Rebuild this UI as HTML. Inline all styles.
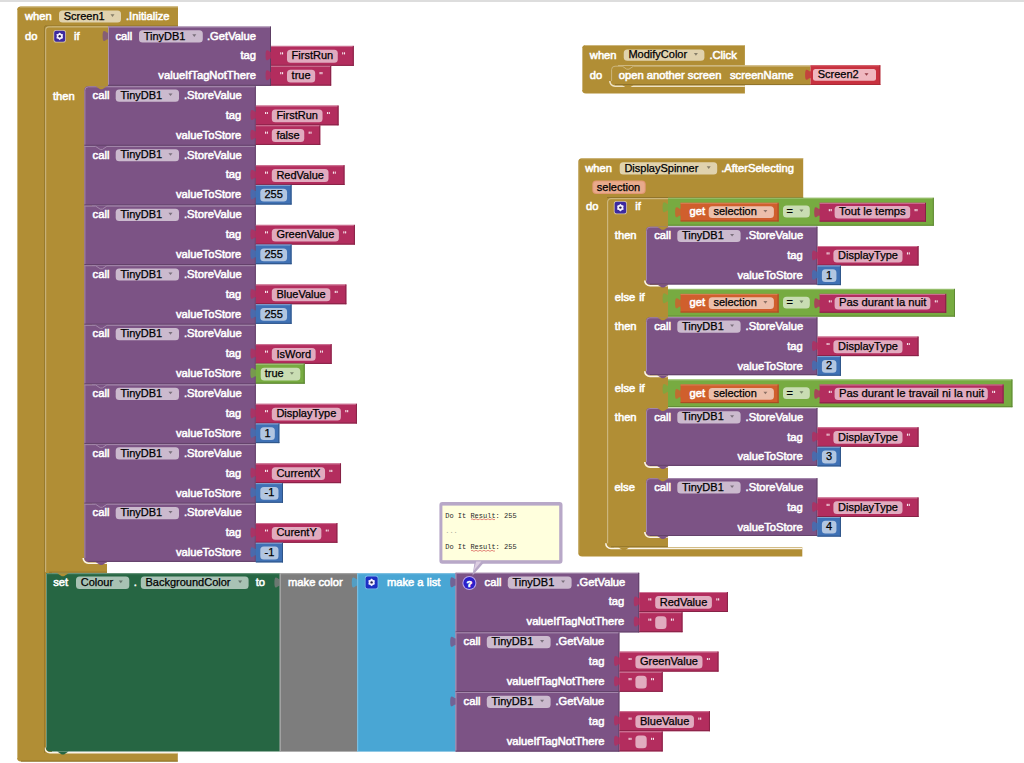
<!DOCTYPE html>
<html><head><meta charset="utf-8"><style>
html,body{margin:0;padding:0;background:#fff;width:1024px;height:763px;overflow:hidden}
svg{display:block}
text{font-family:"Liberation Sans", sans-serif}
text.mono{font-family:"Liberation Mono", monospace}
text.w{stroke:#fff;stroke-width:0.55px}
text.b{stroke:#000;stroke-width:0.25px}
</style></head><body>
<svg width="1024" height="763" viewBox="0 0 1024 763">
<rect x="0" y="0" width="1024" height="763" fill="#ffffff"/>
<rect x="0" y="0" width="1024" height="2" fill="#dddddd"/>
<path d="M17,10.5 a4,4 0 0 1 4,-4 H178 V26.3 H52 V752.8 H177.8 V761.6 H21 a4,4 0 0 1 -4,-4 Z" fill="#b18e35"/>
<line x1="20" y1="7" x2="178" y2="7" stroke="#ccb67c" stroke-width="1"/>
<line x1="17.5" y1="10" x2="17.5" y2="758" stroke="#ccb67c" stroke-width="1"/>
<line x1="45" y1="26" x2="178" y2="26" stroke="#8e722a" stroke-width="1"/>
<line x1="21" y1="761.1" x2="177.8" y2="761.1" stroke="#8e722a" stroke-width="1"/>
<text x="25" y="20" fill="#fff" font-size="11.2" class="w">when</text>
<rect x="59" y="10.4" width="62" height="12" fill="#e0d2ae" rx="3.5"/>
<text x="63.7" y="19.5" fill="#000" font-size="11" class="b">Screen1</text>
<path d="M110.5,14.3 h4 l-2,2.6 z" fill="#867e69"/>
<text x="126" y="20" fill="#fff" font-size="11.2" class="w">.Initialize</text>
<text x="25" y="40" fill="#fff" font-size="11.2" class="w">do</text>
<path d="M45,30.3 a4,4 0 0 1 4,-4 H108 V92 H92 V562 H107 V572.7 H49 a4,4 0 0 1 -4,-4 Z" fill="#b18e35"/>
<path d="M45.6,572 V30.3 a3.4,3.4 0 0 1 3.4,-3.4 H108" fill="none" stroke="#ccb67c" stroke-width="1.2"/>
<line x1="49" y1="572.2" x2="107" y2="572.2" stroke="#8e722a" stroke-width="1"/>
<rect x="53.4" y="30" width="12.6" height="12.6" fill="#ebe1d7" rx="2.8" fill-opacity="0.7"/>
<rect x="54.2" y="30.8" width="11" height="11" fill="#3c2aa0" rx="2"/>
<polygon points="59.7,32.4 61.05,33.96 63.08,34.35 62.4,36.3 63.08,38.25 61.05,38.64 59.7,40.2 58.35,38.64 56.32,38.25 57,36.3 56.32,34.35 58.35,33.96" fill="#f4f0ff"/>
<circle cx="59.7" cy="36.3" r="2.8" fill="#f4f0ff"/>
<circle cx="59.7" cy="36.3" r="1.2" fill="#2a2050"/>
<text x="74" y="40" fill="#fff" font-size="11.2" class="w">if</text>
<text x="53" y="99.5" fill="#fff" font-size="11.2" class="w">then</text>
<path d="M108.6,41.6 c0,-7.5 -6,6 -6,-5.625 s6,1.875 6,-5.625 z" fill="#7c5385" fill-opacity="0.8"/>
<rect x="108" y="26.6" width="163" height="59.2" fill="#7c5385"/>
<line x1="108" y1="27.1" x2="271" y2="27.1" stroke="#aa8fb0" stroke-width="1"/>
<line x1="108.5" y1="26.6" x2="108.5" y2="85.8" stroke="#aa8fb0" stroke-width="1"/>
<line x1="108" y1="85.3" x2="271" y2="85.3" stroke="#5d3e64" stroke-width="1"/>
<line x1="270.5" y1="26.6" x2="270.5" y2="85.8" stroke="#5d3e64" stroke-width="1"/>
<text x="115.5" y="39.6" fill="#fff" font-size="11.2" class="w">call</text>
<rect x="139" y="30.3" width="63.8" height="12.2" fill="#cbbace" rx="3.5"/>
<text x="143.7" y="39.5" fill="#000" font-size="11" class="b">TinyDB1</text>
<path d="M192.3,34.3 h4 l-2,2.6 z" fill="#7a707c"/>
<text x="207" y="39.6" fill="#fff" font-size="11.2" class="w">.GetValue</text>
<text x="256" y="59.2" fill="#fff" font-size="11.2" text-anchor="end" class="w">tag</text>
<text x="256" y="79.1" fill="#fff" font-size="11.2" text-anchor="end" class="w">valueIfTagNotThere</text>
<path d="M271.6,60.9 c0,-7.5 -6,6 -6,-5.625 s6,1.875 6,-5.625 z" fill="#b32d5e" fill-opacity="0.8"/>
<rect x="271" y="45.9" width="82.76" height="19.9" fill="#b32d5e"/>
<line x1="271" y1="46.4" x2="353.76" y2="46.4" stroke="#ce7696" stroke-width="1"/>
<line x1="271" y1="65.3" x2="353.76" y2="65.3" stroke="#862246" stroke-width="1"/>
<line x1="353.26" y1="45.9" x2="353.26" y2="65.8" stroke="#862246" stroke-width="1"/>
<rect x="287" y="49.85" width="50.76" height="12.8" fill="#e1abbf" rx="3.5"/>
<text x="291.6" y="59.35" fill="#000" font-size="11" class="b">FirstRun</text>
<rect x="280.2" y="52.2" width="1.1" height="2.2" fill="#ffffff" rx="0.3" fill-opacity="0.9"/>
<rect x="282" y="52.2" width="1.1" height="2.2" fill="#ffffff" rx="0.3" fill-opacity="0.9"/>
<rect x="342.16" y="52.2" width="1.1" height="2.2" fill="#ffffff" rx="0.3" fill-opacity="0.9"/>
<rect x="343.96" y="52.2" width="1.1" height="2.2" fill="#ffffff" rx="0.3" fill-opacity="0.9"/>
<path d="M271.6,80.8 c0,-7.5 -6,6 -6,-5.625 s6,1.875 6,-5.625 z" fill="#b32d5e" fill-opacity="0.8"/>
<rect x="271" y="65.8" width="60.17" height="19.8" fill="#b32d5e"/>
<line x1="271" y1="66.3" x2="331.17" y2="66.3" stroke="#ce7696" stroke-width="1"/>
<line x1="271" y1="85.1" x2="331.17" y2="85.1" stroke="#862246" stroke-width="1"/>
<line x1="330.67" y1="65.8" x2="330.67" y2="85.6" stroke="#862246" stroke-width="1"/>
<rect x="287" y="69.7" width="28.17" height="12.8" fill="#e1abbf" rx="3.5"/>
<text x="291.6" y="79.2" fill="#000" font-size="11" class="b">true</text>
<rect x="280.2" y="72.1" width="1.1" height="2.2" fill="#ffffff" rx="0.3" fill-opacity="0.9"/>
<rect x="282" y="72.1" width="1.1" height="2.2" fill="#ffffff" rx="0.3" fill-opacity="0.9"/>
<rect x="319.57" y="72.1" width="1.1" height="2.2" fill="#ffffff" rx="0.3" fill-opacity="0.9"/>
<rect x="321.37" y="72.1" width="1.1" height="2.2" fill="#ffffff" rx="0.3" fill-opacity="0.9"/>
<path d="M84.4,90.3 a4,4 0 0 1 4,-4 H255.8 V145.94 H84.4 Z" fill="#7c5385"/>
<line x1="84.9" y1="90.3" x2="84.9" y2="145.94" stroke="#a387aa" stroke-width="1"/>
<path d="M84.9,90.3 a3.5,3.5 0 0 1 3.5,-3.5 H255.8" fill="none" stroke="#a387aa" stroke-width="1"/>
<path d="M95.65,86.3 l4.5,3 h2.25 l4.5,-3 z" fill="#b18e35"/>
<line x1="255.3" y1="86.3" x2="255.3" y2="145.94" stroke="#63426a" stroke-width="1"/>
<text x="92.6" y="98.9" fill="#fff" font-size="11.2" class="w">call</text>
<rect x="115.7" y="89.5" width="63.3" height="12.2" fill="#cbbace" rx="3.5"/>
<text x="120.4" y="98.7" fill="#000" font-size="11" class="b">TinyDB1</text>
<path d="M168.5,93.5 h4 l-2,2.6 z" fill="#7a707c"/>
<text x="184" y="98.9" fill="#fff" font-size="11.2" class="w">.StoreValue</text>
<text x="241.2" y="118.8" fill="#fff" font-size="11.2" text-anchor="end" class="w">tag</text>
<text x="241.2" y="138.7" fill="#fff" font-size="11.2" text-anchor="end" class="w">valueToStore</text>
<path d="M256.4,120.6 c0,-7.5 -6,6 -6,-5.625 s6,1.875 6,-5.625 z" fill="#b32d5e" fill-opacity="0.8"/>
<rect x="255.8" y="105.6" width="82.76" height="19.7" fill="#b32d5e"/>
<line x1="255.8" y1="106.1" x2="338.56" y2="106.1" stroke="#ce7696" stroke-width="1"/>
<line x1="255.8" y1="124.8" x2="338.56" y2="124.8" stroke="#862246" stroke-width="1"/>
<line x1="338.06" y1="105.6" x2="338.06" y2="125.3" stroke="#862246" stroke-width="1"/>
<rect x="271.8" y="109.45" width="50.76" height="12.8" fill="#e1abbf" rx="3.5"/>
<text x="276.4" y="118.95" fill="#000" font-size="11" class="b">FirstRun</text>
<rect x="265" y="111.9" width="1.1" height="2.2" fill="#ffffff" rx="0.3" fill-opacity="0.9"/>
<rect x="266.8" y="111.9" width="1.1" height="2.2" fill="#ffffff" rx="0.3" fill-opacity="0.9"/>
<rect x="326.96" y="111.9" width="1.1" height="2.2" fill="#ffffff" rx="0.3" fill-opacity="0.9"/>
<rect x="328.76" y="111.9" width="1.1" height="2.2" fill="#ffffff" rx="0.3" fill-opacity="0.9"/>
<path d="M256.4,140.3 c0,-7.5 -6,6 -6,-5.625 s6,1.875 6,-5.625 z" fill="#b32d5e" fill-opacity="0.8"/>
<rect x="255.8" y="125.3" width="64.45" height="19.6" fill="#b32d5e"/>
<line x1="255.8" y1="125.8" x2="320.25" y2="125.8" stroke="#ce7696" stroke-width="1"/>
<line x1="255.8" y1="144.4" x2="320.25" y2="144.4" stroke="#862246" stroke-width="1"/>
<line x1="319.75" y1="125.3" x2="319.75" y2="144.9" stroke="#862246" stroke-width="1"/>
<rect x="271.8" y="129.1" width="32.45" height="12.8" fill="#e1abbf" rx="3.5"/>
<text x="276.4" y="138.6" fill="#000" font-size="11" class="b">false</text>
<rect x="265" y="131.6" width="1.1" height="2.2" fill="#ffffff" rx="0.3" fill-opacity="0.9"/>
<rect x="266.8" y="131.6" width="1.1" height="2.2" fill="#ffffff" rx="0.3" fill-opacity="0.9"/>
<rect x="308.65" y="131.6" width="1.1" height="2.2" fill="#ffffff" rx="0.3" fill-opacity="0.9"/>
<rect x="310.45" y="131.6" width="1.1" height="2.2" fill="#ffffff" rx="0.3" fill-opacity="0.9"/>
<path d="M84.4,145.94 H255.8 V205.58 H84.4 Z" fill="#7c5385"/>
<line x1="84.9" y1="145.94" x2="84.9" y2="205.58" stroke="#a387aa" stroke-width="1"/>
<line x1="84.4" y1="145.24" x2="255.8" y2="145.24" stroke="#63426a" stroke-width="1"/>
<path d="M84.4,146.44 H95.65 l4.5,3 h2.25 l4.5,-3 H255.8" fill="none" stroke="#a387aa" stroke-width="1"/>
<line x1="255.3" y1="145.94" x2="255.3" y2="205.58" stroke="#63426a" stroke-width="1"/>
<text x="92.6" y="158.54" fill="#fff" font-size="11.2" class="w">call</text>
<rect x="115.7" y="149.14" width="63.3" height="12.2" fill="#cbbace" rx="3.5"/>
<text x="120.4" y="158.34" fill="#000" font-size="11" class="b">TinyDB1</text>
<path d="M168.5,153.14 h4 l-2,2.6 z" fill="#7a707c"/>
<text x="184" y="158.54" fill="#fff" font-size="11.2" class="w">.StoreValue</text>
<text x="241.2" y="178.44" fill="#fff" font-size="11.2" text-anchor="end" class="w">tag</text>
<text x="241.2" y="198.34" fill="#fff" font-size="11.2" text-anchor="end" class="w">valueToStore</text>
<path d="M256.4,180.24 c0,-7.5 -6,6 -6,-5.625 s6,1.875 6,-5.625 z" fill="#b32d5e" fill-opacity="0.8"/>
<rect x="255.8" y="165.24" width="88.7" height="19.7" fill="#b32d5e"/>
<line x1="255.8" y1="165.74" x2="344.5" y2="165.74" stroke="#ce7696" stroke-width="1"/>
<line x1="255.8" y1="184.44" x2="344.5" y2="184.44" stroke="#862246" stroke-width="1"/>
<line x1="344" y1="165.24" x2="344" y2="184.94" stroke="#862246" stroke-width="1"/>
<rect x="271.8" y="169.09" width="56.7" height="12.8" fill="#e1abbf" rx="3.5"/>
<text x="276.4" y="178.59" fill="#000" font-size="11" class="b">RedValue</text>
<rect x="265" y="171.54" width="1.1" height="2.2" fill="#ffffff" rx="0.3" fill-opacity="0.9"/>
<rect x="266.8" y="171.54" width="1.1" height="2.2" fill="#ffffff" rx="0.3" fill-opacity="0.9"/>
<rect x="332.9" y="171.54" width="1.1" height="2.2" fill="#ffffff" rx="0.3" fill-opacity="0.9"/>
<rect x="334.7" y="171.54" width="1.1" height="2.2" fill="#ffffff" rx="0.3" fill-opacity="0.9"/>
<path d="M256.4,199.94 c0,-7.5 -6,6 -6,-5.625 s6,1.875 6,-5.625 z" fill="#3f71b5" fill-opacity="0.8"/>
<rect x="255.8" y="184.94" width="35.76" height="19.6" fill="#3f71b5"/>
<line x1="255.8" y1="185.44" x2="291.56" y2="185.44" stroke="#82a3cf" stroke-width="1"/>
<line x1="255.8" y1="204.04" x2="291.56" y2="204.04" stroke="#2f5588" stroke-width="1"/>
<line x1="291.06" y1="184.94" x2="291.06" y2="204.54" stroke="#2f5588" stroke-width="1"/>
<rect x="260.3" y="188.74" width="26.76" height="12.8" fill="#b2c6e1" rx="3.5"/>
<text x="264.5" y="198.24" fill="#000" font-size="11" class="b">255</text>
<path d="M84.4,205.58 H255.8 V265.22 H84.4 Z" fill="#7c5385"/>
<line x1="84.9" y1="205.58" x2="84.9" y2="265.22" stroke="#a387aa" stroke-width="1"/>
<line x1="84.4" y1="204.88" x2="255.8" y2="204.88" stroke="#63426a" stroke-width="1"/>
<path d="M84.4,206.08 H95.65 l4.5,3 h2.25 l4.5,-3 H255.8" fill="none" stroke="#a387aa" stroke-width="1"/>
<line x1="255.3" y1="205.58" x2="255.3" y2="265.22" stroke="#63426a" stroke-width="1"/>
<text x="92.6" y="218.18" fill="#fff" font-size="11.2" class="w">call</text>
<rect x="115.7" y="208.78" width="63.3" height="12.2" fill="#cbbace" rx="3.5"/>
<text x="120.4" y="217.98" fill="#000" font-size="11" class="b">TinyDB1</text>
<path d="M168.5,212.78 h4 l-2,2.6 z" fill="#7a707c"/>
<text x="184" y="218.18" fill="#fff" font-size="11.2" class="w">.StoreValue</text>
<text x="241.2" y="238.08" fill="#fff" font-size="11.2" text-anchor="end" class="w">tag</text>
<text x="241.2" y="257.98" fill="#fff" font-size="11.2" text-anchor="end" class="w">valueToStore</text>
<path d="M256.4,239.88 c0,-7.5 -6,6 -6,-5.625 s6,1.875 6,-5.625 z" fill="#b32d5e" fill-opacity="0.8"/>
<rect x="255.8" y="224.88" width="99.09" height="19.7" fill="#b32d5e"/>
<line x1="255.8" y1="225.38" x2="354.89" y2="225.38" stroke="#ce7696" stroke-width="1"/>
<line x1="255.8" y1="244.08" x2="354.89" y2="244.08" stroke="#862246" stroke-width="1"/>
<line x1="354.39" y1="224.88" x2="354.39" y2="244.58" stroke="#862246" stroke-width="1"/>
<rect x="271.8" y="228.73" width="67.09" height="12.8" fill="#e1abbf" rx="3.5"/>
<text x="276.4" y="238.23" fill="#000" font-size="11" class="b">GreenValue</text>
<rect x="265" y="231.18" width="1.1" height="2.2" fill="#ffffff" rx="0.3" fill-opacity="0.9"/>
<rect x="266.8" y="231.18" width="1.1" height="2.2" fill="#ffffff" rx="0.3" fill-opacity="0.9"/>
<rect x="343.29" y="231.18" width="1.1" height="2.2" fill="#ffffff" rx="0.3" fill-opacity="0.9"/>
<rect x="345.09" y="231.18" width="1.1" height="2.2" fill="#ffffff" rx="0.3" fill-opacity="0.9"/>
<path d="M256.4,259.58 c0,-7.5 -6,6 -6,-5.625 s6,1.875 6,-5.625 z" fill="#3f71b5" fill-opacity="0.8"/>
<rect x="255.8" y="244.58" width="35.76" height="19.6" fill="#3f71b5"/>
<line x1="255.8" y1="245.08" x2="291.56" y2="245.08" stroke="#82a3cf" stroke-width="1"/>
<line x1="255.8" y1="263.68" x2="291.56" y2="263.68" stroke="#2f5588" stroke-width="1"/>
<line x1="291.06" y1="244.58" x2="291.06" y2="264.18" stroke="#2f5588" stroke-width="1"/>
<rect x="260.3" y="248.38" width="26.76" height="12.8" fill="#b2c6e1" rx="3.5"/>
<text x="264.5" y="257.88" fill="#000" font-size="11" class="b">255</text>
<path d="M84.4,265.22 H255.8 V324.86 H84.4 Z" fill="#7c5385"/>
<line x1="84.9" y1="265.22" x2="84.9" y2="324.86" stroke="#a387aa" stroke-width="1"/>
<line x1="84.4" y1="264.52" x2="255.8" y2="264.52" stroke="#63426a" stroke-width="1"/>
<path d="M84.4,265.72 H95.65 l4.5,3 h2.25 l4.5,-3 H255.8" fill="none" stroke="#a387aa" stroke-width="1"/>
<line x1="255.3" y1="265.22" x2="255.3" y2="324.86" stroke="#63426a" stroke-width="1"/>
<text x="92.6" y="277.82" fill="#fff" font-size="11.2" class="w">call</text>
<rect x="115.7" y="268.42" width="63.3" height="12.2" fill="#cbbace" rx="3.5"/>
<text x="120.4" y="277.62" fill="#000" font-size="11" class="b">TinyDB1</text>
<path d="M168.5,272.42 h4 l-2,2.6 z" fill="#7a707c"/>
<text x="184" y="277.82" fill="#fff" font-size="11.2" class="w">.StoreValue</text>
<text x="241.2" y="297.72" fill="#fff" font-size="11.2" text-anchor="end" class="w">tag</text>
<text x="241.2" y="317.62" fill="#fff" font-size="11.2" text-anchor="end" class="w">valueToStore</text>
<path d="M256.4,299.52 c0,-7.5 -6,6 -6,-5.625 s6,1.875 6,-5.625 z" fill="#b32d5e" fill-opacity="0.8"/>
<rect x="255.8" y="284.52" width="90.54" height="19.7" fill="#b32d5e"/>
<line x1="255.8" y1="285.02" x2="346.34" y2="285.02" stroke="#ce7696" stroke-width="1"/>
<line x1="255.8" y1="303.72" x2="346.34" y2="303.72" stroke="#862246" stroke-width="1"/>
<line x1="345.84" y1="284.52" x2="345.84" y2="304.22" stroke="#862246" stroke-width="1"/>
<rect x="271.8" y="288.37" width="58.54" height="12.8" fill="#e1abbf" rx="3.5"/>
<text x="276.4" y="297.87" fill="#000" font-size="11" class="b">BlueValue</text>
<rect x="265" y="290.82" width="1.1" height="2.2" fill="#ffffff" rx="0.3" fill-opacity="0.9"/>
<rect x="266.8" y="290.82" width="1.1" height="2.2" fill="#ffffff" rx="0.3" fill-opacity="0.9"/>
<rect x="334.74" y="290.82" width="1.1" height="2.2" fill="#ffffff" rx="0.3" fill-opacity="0.9"/>
<rect x="336.54" y="290.82" width="1.1" height="2.2" fill="#ffffff" rx="0.3" fill-opacity="0.9"/>
<path d="M256.4,319.22 c0,-7.5 -6,6 -6,-5.625 s6,1.875 6,-5.625 z" fill="#3f71b5" fill-opacity="0.8"/>
<rect x="255.8" y="304.22" width="35.76" height="19.6" fill="#3f71b5"/>
<line x1="255.8" y1="304.72" x2="291.56" y2="304.72" stroke="#82a3cf" stroke-width="1"/>
<line x1="255.8" y1="323.32" x2="291.56" y2="323.32" stroke="#2f5588" stroke-width="1"/>
<line x1="291.06" y1="304.22" x2="291.06" y2="323.82" stroke="#2f5588" stroke-width="1"/>
<rect x="260.3" y="308.02" width="26.76" height="12.8" fill="#b2c6e1" rx="3.5"/>
<text x="264.5" y="317.52" fill="#000" font-size="11" class="b">255</text>
<path d="M84.4,324.86 H255.8 V384.5 H84.4 Z" fill="#7c5385"/>
<line x1="84.9" y1="324.86" x2="84.9" y2="384.5" stroke="#a387aa" stroke-width="1"/>
<line x1="84.4" y1="324.16" x2="255.8" y2="324.16" stroke="#63426a" stroke-width="1"/>
<path d="M84.4,325.36 H95.65 l4.5,3 h2.25 l4.5,-3 H255.8" fill="none" stroke="#a387aa" stroke-width="1"/>
<line x1="255.3" y1="324.86" x2="255.3" y2="384.5" stroke="#63426a" stroke-width="1"/>
<text x="92.6" y="337.46" fill="#fff" font-size="11.2" class="w">call</text>
<rect x="115.7" y="328.06" width="63.3" height="12.2" fill="#cbbace" rx="3.5"/>
<text x="120.4" y="337.26" fill="#000" font-size="11" class="b">TinyDB1</text>
<path d="M168.5,332.06 h4 l-2,2.6 z" fill="#7a707c"/>
<text x="184" y="337.46" fill="#fff" font-size="11.2" class="w">.StoreValue</text>
<text x="241.2" y="357.36" fill="#fff" font-size="11.2" text-anchor="end" class="w">tag</text>
<text x="241.2" y="377.26" fill="#fff" font-size="11.2" text-anchor="end" class="w">valueToStore</text>
<path d="M256.4,359.16 c0,-7.5 -6,6 -6,-5.625 s6,1.875 6,-5.625 z" fill="#b32d5e" fill-opacity="0.8"/>
<rect x="255.8" y="344.16" width="75.84" height="19.7" fill="#b32d5e"/>
<line x1="255.8" y1="344.66" x2="331.64" y2="344.66" stroke="#ce7696" stroke-width="1"/>
<line x1="255.8" y1="363.36" x2="331.64" y2="363.36" stroke="#862246" stroke-width="1"/>
<line x1="331.14" y1="344.16" x2="331.14" y2="363.86" stroke="#862246" stroke-width="1"/>
<rect x="271.8" y="348.01" width="43.84" height="12.8" fill="#e1abbf" rx="3.5"/>
<text x="276.4" y="357.51" fill="#000" font-size="11" class="b">IsWord</text>
<rect x="265" y="350.46" width="1.1" height="2.2" fill="#ffffff" rx="0.3" fill-opacity="0.9"/>
<rect x="266.8" y="350.46" width="1.1" height="2.2" fill="#ffffff" rx="0.3" fill-opacity="0.9"/>
<rect x="320.04" y="350.46" width="1.1" height="2.2" fill="#ffffff" rx="0.3" fill-opacity="0.9"/>
<rect x="321.84" y="350.46" width="1.1" height="2.2" fill="#ffffff" rx="0.3" fill-opacity="0.9"/>
<path d="M256.4,378.66 c0,-7.5 -6,6 -6,-5.625 s6,1.875 6,-5.625 z" fill="#77ab41" fill-opacity="0.8"/>
<rect x="255.8" y="363.66" width="48.9" height="20" fill="#77ab41"/>
<line x1="255.8" y1="364.16" x2="304.7" y2="364.16" stroke="#a7c884" stroke-width="1"/>
<line x1="255.8" y1="383.16" x2="304.7" y2="383.16" stroke="#598031" stroke-width="1"/>
<line x1="304.2" y1="363.66" x2="304.2" y2="383.66" stroke="#598031" stroke-width="1"/>
<rect x="260.7" y="367.66" width="39.6" height="12.8" fill="#c9ddb3" rx="3.5"/>
<text x="264.7" y="377.16" fill="#000" font-size="11" class="b">true</text>
<path d="M289.9,372.16 h4 l-2,2.6 z" fill="#78856b"/>
<path d="M84.4,384.5 H255.8 V444.14 H84.4 Z" fill="#7c5385"/>
<line x1="84.9" y1="384.5" x2="84.9" y2="444.14" stroke="#a387aa" stroke-width="1"/>
<line x1="84.4" y1="383.8" x2="255.8" y2="383.8" stroke="#63426a" stroke-width="1"/>
<path d="M84.4,385 H95.65 l4.5,3 h2.25 l4.5,-3 H255.8" fill="none" stroke="#a387aa" stroke-width="1"/>
<line x1="255.3" y1="384.5" x2="255.3" y2="444.14" stroke="#63426a" stroke-width="1"/>
<text x="92.6" y="397.1" fill="#fff" font-size="11.2" class="w">call</text>
<rect x="115.7" y="387.7" width="63.3" height="12.2" fill="#cbbace" rx="3.5"/>
<text x="120.4" y="396.9" fill="#000" font-size="11" class="b">TinyDB1</text>
<path d="M168.5,391.7 h4 l-2,2.6 z" fill="#7a707c"/>
<text x="184" y="397.1" fill="#fff" font-size="11.2" class="w">.StoreValue</text>
<text x="241.2" y="417" fill="#fff" font-size="11.2" text-anchor="end" class="w">tag</text>
<text x="241.2" y="436.9" fill="#fff" font-size="11.2" text-anchor="end" class="w">valueToStore</text>
<path d="M256.4,418.8 c0,-7.5 -6,6 -6,-5.625 s6,1.875 6,-5.625 z" fill="#b32d5e" fill-opacity="0.8"/>
<rect x="255.8" y="403.8" width="101.12" height="19.7" fill="#b32d5e"/>
<line x1="255.8" y1="404.3" x2="356.92" y2="404.3" stroke="#ce7696" stroke-width="1"/>
<line x1="255.8" y1="423" x2="356.92" y2="423" stroke="#862246" stroke-width="1"/>
<line x1="356.42" y1="403.8" x2="356.42" y2="423.5" stroke="#862246" stroke-width="1"/>
<rect x="271.8" y="407.65" width="69.12" height="12.8" fill="#e1abbf" rx="3.5"/>
<text x="276.4" y="417.15" fill="#000" font-size="11" class="b">DisplayType</text>
<rect x="265" y="410.1" width="1.1" height="2.2" fill="#ffffff" rx="0.3" fill-opacity="0.9"/>
<rect x="266.8" y="410.1" width="1.1" height="2.2" fill="#ffffff" rx="0.3" fill-opacity="0.9"/>
<rect x="345.32" y="410.1" width="1.1" height="2.2" fill="#ffffff" rx="0.3" fill-opacity="0.9"/>
<rect x="347.12" y="410.1" width="1.1" height="2.2" fill="#ffffff" rx="0.3" fill-opacity="0.9"/>
<path d="M256.4,438.5 c0,-7.5 -6,6 -6,-5.625 s6,1.875 6,-5.625 z" fill="#3f71b5" fill-opacity="0.8"/>
<rect x="255.8" y="423.5" width="23.53" height="19.6" fill="#3f71b5"/>
<line x1="255.8" y1="424" x2="279.33" y2="424" stroke="#82a3cf" stroke-width="1"/>
<line x1="255.8" y1="442.6" x2="279.33" y2="442.6" stroke="#2f5588" stroke-width="1"/>
<line x1="278.83" y1="423.5" x2="278.83" y2="443.1" stroke="#2f5588" stroke-width="1"/>
<rect x="260.3" y="427.3" width="14.53" height="12.8" fill="#b2c6e1" rx="3.5"/>
<text x="264.5" y="436.8" fill="#000" font-size="11" class="b">1</text>
<path d="M84.4,444.14 H255.8 V503.78 H84.4 Z" fill="#7c5385"/>
<line x1="84.9" y1="444.14" x2="84.9" y2="503.78" stroke="#a387aa" stroke-width="1"/>
<line x1="84.4" y1="443.44" x2="255.8" y2="443.44" stroke="#63426a" stroke-width="1"/>
<path d="M84.4,444.64 H95.65 l4.5,3 h2.25 l4.5,-3 H255.8" fill="none" stroke="#a387aa" stroke-width="1"/>
<line x1="255.3" y1="444.14" x2="255.3" y2="503.78" stroke="#63426a" stroke-width="1"/>
<text x="92.6" y="456.74" fill="#fff" font-size="11.2" class="w">call</text>
<rect x="115.7" y="447.34" width="63.3" height="12.2" fill="#cbbace" rx="3.5"/>
<text x="120.4" y="456.54" fill="#000" font-size="11" class="b">TinyDB1</text>
<path d="M168.5,451.34 h4 l-2,2.6 z" fill="#7a707c"/>
<text x="184" y="456.74" fill="#fff" font-size="11.2" class="w">.StoreValue</text>
<text x="241.2" y="476.64" fill="#fff" font-size="11.2" text-anchor="end" class="w">tag</text>
<text x="241.2" y="496.54" fill="#fff" font-size="11.2" text-anchor="end" class="w">valueToStore</text>
<path d="M256.4,478.44 c0,-7.5 -6,6 -6,-5.625 s6,1.875 6,-5.625 z" fill="#b32d5e" fill-opacity="0.8"/>
<rect x="255.8" y="463.44" width="85.23" height="19.7" fill="#b32d5e"/>
<line x1="255.8" y1="463.94" x2="341.03" y2="463.94" stroke="#ce7696" stroke-width="1"/>
<line x1="255.8" y1="482.64" x2="341.03" y2="482.64" stroke="#862246" stroke-width="1"/>
<line x1="340.53" y1="463.44" x2="340.53" y2="483.14" stroke="#862246" stroke-width="1"/>
<rect x="271.8" y="467.29" width="53.23" height="12.8" fill="#e1abbf" rx="3.5"/>
<text x="276.4" y="476.79" fill="#000" font-size="11" class="b">CurrentX</text>
<rect x="265" y="469.74" width="1.1" height="2.2" fill="#ffffff" rx="0.3" fill-opacity="0.9"/>
<rect x="266.8" y="469.74" width="1.1" height="2.2" fill="#ffffff" rx="0.3" fill-opacity="0.9"/>
<rect x="329.43" y="469.74" width="1.1" height="2.2" fill="#ffffff" rx="0.3" fill-opacity="0.9"/>
<rect x="331.23" y="469.74" width="1.1" height="2.2" fill="#ffffff" rx="0.3" fill-opacity="0.9"/>
<path d="M256.4,498.14 c0,-7.5 -6,6 -6,-5.625 s6,1.875 6,-5.625 z" fill="#3f71b5" fill-opacity="0.8"/>
<rect x="255.8" y="483.14" width="27.18" height="19.6" fill="#3f71b5"/>
<line x1="255.8" y1="483.64" x2="282.98" y2="483.64" stroke="#82a3cf" stroke-width="1"/>
<line x1="255.8" y1="502.24" x2="282.98" y2="502.24" stroke="#2f5588" stroke-width="1"/>
<line x1="282.48" y1="483.14" x2="282.48" y2="502.74" stroke="#2f5588" stroke-width="1"/>
<rect x="260.3" y="486.94" width="18.18" height="12.8" fill="#b2c6e1" rx="3.5"/>
<text x="264.5" y="496.44" fill="#000" font-size="11" class="b">-1</text>
<path d="M84.4,503.78 H255.8 V561.98 H88.4 a4,4 0 0 1 -4,-4 Z" fill="#7c5385"/>
<line x1="84.9" y1="503.78" x2="84.9" y2="557.98" stroke="#a387aa" stroke-width="1"/>
<line x1="84.4" y1="503.08" x2="255.8" y2="503.08" stroke="#63426a" stroke-width="1"/>
<path d="M84.4,504.28 H95.65 l4.5,3 h2.25 l4.5,-3 H255.8" fill="none" stroke="#a387aa" stroke-width="1"/>
<line x1="255.3" y1="503.78" x2="255.3" y2="561.98" stroke="#63426a" stroke-width="1"/>
<line x1="88.4" y1="561.38" x2="255.8" y2="561.38" stroke="#63426a" stroke-width="1"/>
<path d="M83.2,557.98 a5.2,5.2 0 0 0 5.2,5.2 H107" fill="none" stroke="#faf4e8" stroke-width="1.6"/>
<path d="M95.65,561.98 l4.5,3 h2.25 l4.5,-3 z" fill="#7c5385"/>
<text x="92.6" y="516.38" fill="#fff" font-size="11.2" class="w">call</text>
<rect x="115.7" y="506.98" width="63.3" height="12.2" fill="#cbbace" rx="3.5"/>
<text x="120.4" y="516.18" fill="#000" font-size="11" class="b">TinyDB1</text>
<path d="M168.5,510.98 h4 l-2,2.6 z" fill="#7a707c"/>
<text x="184" y="516.38" fill="#fff" font-size="11.2" class="w">.StoreValue</text>
<text x="241.2" y="536.28" fill="#fff" font-size="11.2" text-anchor="end" class="w">tag</text>
<text x="241.2" y="556.18" fill="#fff" font-size="11.2" text-anchor="end" class="w">valueToStore</text>
<path d="M256.4,538.08 c0,-7.5 -6,6 -6,-5.625 s6,1.875 6,-5.625 z" fill="#b32d5e" fill-opacity="0.8"/>
<rect x="255.8" y="523.08" width="81.56" height="19.7" fill="#b32d5e"/>
<line x1="255.8" y1="523.58" x2="337.36" y2="523.58" stroke="#ce7696" stroke-width="1"/>
<line x1="255.8" y1="542.28" x2="337.36" y2="542.28" stroke="#862246" stroke-width="1"/>
<line x1="336.86" y1="523.08" x2="336.86" y2="542.78" stroke="#862246" stroke-width="1"/>
<rect x="271.8" y="526.93" width="49.56" height="12.8" fill="#e1abbf" rx="3.5"/>
<text x="276.4" y="536.43" fill="#000" font-size="11" class="b">CurentY</text>
<rect x="265" y="529.38" width="1.1" height="2.2" fill="#ffffff" rx="0.3" fill-opacity="0.9"/>
<rect x="266.8" y="529.38" width="1.1" height="2.2" fill="#ffffff" rx="0.3" fill-opacity="0.9"/>
<rect x="325.76" y="529.38" width="1.1" height="2.2" fill="#ffffff" rx="0.3" fill-opacity="0.9"/>
<rect x="327.56" y="529.38" width="1.1" height="2.2" fill="#ffffff" rx="0.3" fill-opacity="0.9"/>
<path d="M256.4,557.78 c0,-7.5 -6,6 -6,-5.625 s6,1.875 6,-5.625 z" fill="#3f71b5" fill-opacity="0.8"/>
<rect x="255.8" y="542.78" width="27.18" height="19.6" fill="#3f71b5"/>
<line x1="255.8" y1="543.28" x2="282.98" y2="543.28" stroke="#82a3cf" stroke-width="1"/>
<line x1="255.8" y1="561.88" x2="282.98" y2="561.88" stroke="#2f5588" stroke-width="1"/>
<line x1="282.48" y1="542.78" x2="282.48" y2="562.38" stroke="#2f5588" stroke-width="1"/>
<rect x="260.3" y="546.58" width="18.18" height="12.8" fill="#b2c6e1" rx="3.5"/>
<text x="264.5" y="556.08" fill="#000" font-size="11" class="b">-1</text>
<path d="M44.8,747.6 a5.2,5.2 0 0 0 5.2,5.2 H177.8" fill="none" stroke="#faf4e8" stroke-width="1.6"/>
<path d="M46,573.2 H279.8 V751.6 H50 a4,4 0 0 1 -4,-4 Z" fill="#266643"/>
<path d="M46.5,747.6 V573.7 H279.8" fill="none" stroke="#67947b" stroke-width="1"/>
<line x1="44.6" y1="26.3" x2="44.6" y2="752.8" stroke="#8e722a" stroke-width="0.8"/>
<path d="M57.25,573.2 l4.5,3 h2.25 l4.5,-3 z" fill="#b18e35"/>
<path d="M57.25,751.6 l4.5,3 h2.25 l4.5,-3 z" fill="#266643"/>
<text x="53.2" y="586" fill="#fff" font-size="11.2" class="w">set</text>
<rect x="76" y="576.4" width="53.3" height="12.6" fill="#a8c2b4" rx="3.5"/>
<text x="80.7" y="585.8" fill="#000" font-size="11" class="b">Colour</text>
<path d="M118.8,580.6 h4 l-2,2.6 z" fill="#65746c"/>
<text x="133.8" y="586" fill="#fff" font-size="11.2" class="w">.</text>
<rect x="140.8" y="576.4" width="107.8" height="12.6" fill="#a8c2b4" rx="3.5"/>
<text x="145.5" y="585.8" fill="#000" font-size="11" class="b">BackgroundColor</text>
<path d="M238.1,580.6 h4 l-2,2.6 z" fill="#65746c"/>
<text x="255.7" y="586" fill="#fff" font-size="11.2" class="w">to</text>
<path d="M280.4,588.2 c0,-7.5 -6,6 -6,-5.625 s6,1.875 6,-5.625 z" fill="#7d7d7d" fill-opacity="0.8"/>
<rect x="279.8" y="573.2" width="77.4" height="178.4" fill="#7d7d7d"/>
<line x1="279.8" y1="573.7" x2="357.2" y2="573.7" stroke="#a4a4a4" stroke-width="1"/>
<line x1="280.3" y1="573.2" x2="280.3" y2="751.6" stroke="#aaaaaa" stroke-width="1"/>
<text x="288" y="586.2" fill="#fff" font-size="11.2" class="w">make color</text>
<path d="M357.8,588.2 c0,-7.5 -6,6 -6,-5.625 s6,1.875 6,-5.625 z" fill="#49a6d4" fill-opacity="0.8"/>
<rect x="357.2" y="573.2" width="98.4" height="178.4" fill="#49a6d4"/>
<line x1="357.2" y1="573.7" x2="455.6" y2="573.7" stroke="#80c1e1" stroke-width="1"/>
<line x1="357.7" y1="573.2" x2="357.7" y2="751.6" stroke="#80c1e1" stroke-width="1"/>
<rect x="364.8" y="575.6" width="13.6" height="13.6" fill="#96c3f5" rx="2.8" fill-opacity="0.7"/>
<rect x="365.6" y="576.4" width="12" height="12" fill="#1c30c4" rx="2"/>
<polygon points="371.6,578.5 372.95,580.06 374.98,580.45 374.3,582.4 374.98,584.35 372.95,584.74 371.6,586.3 370.25,584.74 368.22,584.35 368.9,582.4 368.22,580.45 370.25,580.06" fill="#f4f0ff"/>
<circle cx="371.6" cy="582.4" r="2.8" fill="#f4f0ff"/>
<circle cx="371.6" cy="582.4" r="1.2" fill="#2a2050"/>
<text x="386.9" y="586.2" fill="#fff" font-size="11.2" class="w">make a list</text>
<path d="M456.2,587.8 c0,-7.5 -6,6 -6,-5.625 s6,1.875 6,-5.625 z" fill="#7c5385" fill-opacity="0.8"/>
<rect x="455.6" y="572.8" width="183.6" height="59.6" fill="#7c5385"/>
<line x1="455.6" y1="573.3" x2="639.2" y2="573.3" stroke="#a387aa" stroke-width="1"/>
<line x1="456.1" y1="572.8" x2="456.1" y2="632.4" stroke="#a387aa" stroke-width="1"/>
<line x1="638.7" y1="572.8" x2="638.7" y2="632.4" stroke="#63426a" stroke-width="1"/>
<circle cx="469.4" cy="583" r="7" fill="#b9a6f0"/>
<circle cx="469.4" cy="583" r="6" fill="#2b1fc9"/>
<text x="469.4" y="586.6" fill="#fff" font-size="9.5" text-anchor="middle" class="w" font-weight="bold">?</text>
<text x="484.6" y="585.8" fill="#fff" font-size="11.2" class="w">call</text>
<rect x="507.8" y="576.5" width="63.8" height="12.2" fill="#cbbace" rx="3.5"/>
<text x="512.5" y="585.7" fill="#000" font-size="11" class="b">TinyDB1</text>
<path d="M561.1,580.5 h4 l-2,2.6 z" fill="#7a707c"/>
<text x="576.4" y="585.8" fill="#fff" font-size="11.2" class="w">.GetValue</text>
<text x="624.2" y="605.4" fill="#fff" font-size="11.2" text-anchor="end" class="w">tag</text>
<text x="624.2" y="625.3" fill="#fff" font-size="11.2" text-anchor="end" class="w">valueIfTagNotThere</text>
<path d="M639.8,607 c0,-7.5 -6,6 -6,-5.625 s6,1.875 6,-5.625 z" fill="#b32d5e" fill-opacity="0.8"/>
<rect x="639.2" y="592" width="88.7" height="20" fill="#b32d5e"/>
<line x1="639.2" y1="592.5" x2="727.9" y2="592.5" stroke="#ce7696" stroke-width="1"/>
<line x1="639.2" y1="611.5" x2="727.9" y2="611.5" stroke="#862246" stroke-width="1"/>
<line x1="727.4" y1="592" x2="727.4" y2="612" stroke="#862246" stroke-width="1"/>
<rect x="655.2" y="596" width="56.7" height="12.8" fill="#e1abbf" rx="3.5"/>
<text x="659.8" y="605.5" fill="#000" font-size="11" class="b">RedValue</text>
<rect x="648.4" y="598.3" width="1.1" height="2.2" fill="#ffffff" rx="0.3" fill-opacity="0.9"/>
<rect x="650.2" y="598.3" width="1.1" height="2.2" fill="#ffffff" rx="0.3" fill-opacity="0.9"/>
<rect x="716.3" y="598.3" width="1.1" height="2.2" fill="#ffffff" rx="0.3" fill-opacity="0.9"/>
<rect x="718.1" y="598.3" width="1.1" height="2.2" fill="#ffffff" rx="0.3" fill-opacity="0.9"/>
<path d="M639.8,627.2 c0,-7.5 -6,6 -6,-5.625 s6,1.875 6,-5.625 z" fill="#b32d5e" fill-opacity="0.8"/>
<rect x="639.2" y="612.2" width="43.3" height="20" fill="#b32d5e"/>
<line x1="639.2" y1="612.7" x2="682.5" y2="612.7" stroke="#ce7696" stroke-width="1"/>
<line x1="639.2" y1="631.7" x2="682.5" y2="631.7" stroke="#862246" stroke-width="1"/>
<line x1="682" y1="612.2" x2="682" y2="632.2" stroke="#862246" stroke-width="1"/>
<rect x="655.2" y="616.2" width="11.3" height="12.8" fill="#e1abbf" rx="3.5"/>
<rect x="648.4" y="618.5" width="1.1" height="2.2" fill="#ffffff" rx="0.3" fill-opacity="0.9"/>
<rect x="650.2" y="618.5" width="1.1" height="2.2" fill="#ffffff" rx="0.3" fill-opacity="0.9"/>
<rect x="670.9" y="618.5" width="1.1" height="2.2" fill="#ffffff" rx="0.3" fill-opacity="0.9"/>
<rect x="672.7" y="618.5" width="1.1" height="2.2" fill="#ffffff" rx="0.3" fill-opacity="0.9"/>
<line x1="455.6" y1="631.9" x2="639.2" y2="631.9" stroke="#63426a" stroke-width="1"/>
<path d="M456.2,647.4 c0,-7.5 -6,6 -6,-5.625 s6,1.875 6,-5.625 z" fill="#7c5385" fill-opacity="0.8"/>
<rect x="455.6" y="632.4" width="163.8" height="59.6" fill="#7c5385"/>
<line x1="455.6" y1="632.9" x2="619.4" y2="632.9" stroke="#a387aa" stroke-width="1"/>
<line x1="456.1" y1="632.4" x2="456.1" y2="692" stroke="#a387aa" stroke-width="1"/>
<line x1="618.9" y1="632.4" x2="618.9" y2="692" stroke="#63426a" stroke-width="1"/>
<text x="463.6" y="645.4" fill="#fff" font-size="11.2" class="w">call</text>
<rect x="486.8" y="636.1" width="63.8" height="12.2" fill="#cbbace" rx="3.5"/>
<text x="491.5" y="645.3" fill="#000" font-size="11" class="b">TinyDB1</text>
<path d="M540.1,640.1 h4 l-2,2.6 z" fill="#7a707c"/>
<text x="555.4" y="645.4" fill="#fff" font-size="11.2" class="w">.GetValue</text>
<text x="604.4" y="665" fill="#fff" font-size="11.2" text-anchor="end" class="w">tag</text>
<text x="604.4" y="684.9" fill="#fff" font-size="11.2" text-anchor="end" class="w">valueIfTagNotThere</text>
<path d="M620,666.6 c0,-7.5 -6,6 -6,-5.625 s6,1.875 6,-5.625 z" fill="#b32d5e" fill-opacity="0.8"/>
<rect x="619.4" y="651.6" width="99.09" height="20" fill="#b32d5e"/>
<line x1="619.4" y1="652.1" x2="718.49" y2="652.1" stroke="#ce7696" stroke-width="1"/>
<line x1="619.4" y1="671.1" x2="718.49" y2="671.1" stroke="#862246" stroke-width="1"/>
<line x1="717.99" y1="651.6" x2="717.99" y2="671.6" stroke="#862246" stroke-width="1"/>
<rect x="635.4" y="655.6" width="67.09" height="12.8" fill="#e1abbf" rx="3.5"/>
<text x="640" y="665.1" fill="#000" font-size="11" class="b">GreenValue</text>
<rect x="628.6" y="657.9" width="1.1" height="2.2" fill="#ffffff" rx="0.3" fill-opacity="0.9"/>
<rect x="630.4" y="657.9" width="1.1" height="2.2" fill="#ffffff" rx="0.3" fill-opacity="0.9"/>
<rect x="706.89" y="657.9" width="1.1" height="2.2" fill="#ffffff" rx="0.3" fill-opacity="0.9"/>
<rect x="708.69" y="657.9" width="1.1" height="2.2" fill="#ffffff" rx="0.3" fill-opacity="0.9"/>
<path d="M620,686.8 c0,-7.5 -6,6 -6,-5.625 s6,1.875 6,-5.625 z" fill="#b32d5e" fill-opacity="0.8"/>
<rect x="619.4" y="671.8" width="43.3" height="20" fill="#b32d5e"/>
<line x1="619.4" y1="672.3" x2="662.7" y2="672.3" stroke="#ce7696" stroke-width="1"/>
<line x1="619.4" y1="691.3" x2="662.7" y2="691.3" stroke="#862246" stroke-width="1"/>
<line x1="662.2" y1="671.8" x2="662.2" y2="691.8" stroke="#862246" stroke-width="1"/>
<rect x="635.4" y="675.8" width="11.3" height="12.8" fill="#e1abbf" rx="3.5"/>
<rect x="628.6" y="678.1" width="1.1" height="2.2" fill="#ffffff" rx="0.3" fill-opacity="0.9"/>
<rect x="630.4" y="678.1" width="1.1" height="2.2" fill="#ffffff" rx="0.3" fill-opacity="0.9"/>
<rect x="651.1" y="678.1" width="1.1" height="2.2" fill="#ffffff" rx="0.3" fill-opacity="0.9"/>
<rect x="652.9" y="678.1" width="1.1" height="2.2" fill="#ffffff" rx="0.3" fill-opacity="0.9"/>
<line x1="455.6" y1="691.5" x2="619.4" y2="691.5" stroke="#63426a" stroke-width="1"/>
<path d="M456.2,707 c0,-7.5 -6,6 -6,-5.625 s6,1.875 6,-5.625 z" fill="#7c5385" fill-opacity="0.8"/>
<rect x="455.6" y="692" width="163.8" height="59.6" fill="#7c5385"/>
<line x1="455.6" y1="692.5" x2="619.4" y2="692.5" stroke="#a387aa" stroke-width="1"/>
<line x1="456.1" y1="692" x2="456.1" y2="751.6" stroke="#a387aa" stroke-width="1"/>
<line x1="618.9" y1="692" x2="618.9" y2="751.6" stroke="#63426a" stroke-width="1"/>
<text x="463.6" y="705" fill="#fff" font-size="11.2" class="w">call</text>
<rect x="486.8" y="695.7" width="63.8" height="12.2" fill="#cbbace" rx="3.5"/>
<text x="491.5" y="704.9" fill="#000" font-size="11" class="b">TinyDB1</text>
<path d="M540.1,699.7 h4 l-2,2.6 z" fill="#7a707c"/>
<text x="555.4" y="705" fill="#fff" font-size="11.2" class="w">.GetValue</text>
<text x="604.4" y="724.6" fill="#fff" font-size="11.2" text-anchor="end" class="w">tag</text>
<text x="604.4" y="744.5" fill="#fff" font-size="11.2" text-anchor="end" class="w">valueIfTagNotThere</text>
<path d="M620,726.2 c0,-7.5 -6,6 -6,-5.625 s6,1.875 6,-5.625 z" fill="#b32d5e" fill-opacity="0.8"/>
<rect x="619.4" y="711.2" width="90.54" height="20" fill="#b32d5e"/>
<line x1="619.4" y1="711.7" x2="709.94" y2="711.7" stroke="#ce7696" stroke-width="1"/>
<line x1="619.4" y1="730.7" x2="709.94" y2="730.7" stroke="#862246" stroke-width="1"/>
<line x1="709.44" y1="711.2" x2="709.44" y2="731.2" stroke="#862246" stroke-width="1"/>
<rect x="635.4" y="715.2" width="58.54" height="12.8" fill="#e1abbf" rx="3.5"/>
<text x="640" y="724.7" fill="#000" font-size="11" class="b">BlueValue</text>
<rect x="628.6" y="717.5" width="1.1" height="2.2" fill="#ffffff" rx="0.3" fill-opacity="0.9"/>
<rect x="630.4" y="717.5" width="1.1" height="2.2" fill="#ffffff" rx="0.3" fill-opacity="0.9"/>
<rect x="698.34" y="717.5" width="1.1" height="2.2" fill="#ffffff" rx="0.3" fill-opacity="0.9"/>
<rect x="700.14" y="717.5" width="1.1" height="2.2" fill="#ffffff" rx="0.3" fill-opacity="0.9"/>
<path d="M620,746.4 c0,-7.5 -6,6 -6,-5.625 s6,1.875 6,-5.625 z" fill="#b32d5e" fill-opacity="0.8"/>
<rect x="619.4" y="731.4" width="43.3" height="20" fill="#b32d5e"/>
<line x1="619.4" y1="731.9" x2="662.7" y2="731.9" stroke="#ce7696" stroke-width="1"/>
<line x1="619.4" y1="750.9" x2="662.7" y2="750.9" stroke="#862246" stroke-width="1"/>
<line x1="662.2" y1="731.4" x2="662.2" y2="751.4" stroke="#862246" stroke-width="1"/>
<rect x="635.4" y="735.4" width="11.3" height="12.8" fill="#e1abbf" rx="3.5"/>
<rect x="628.6" y="737.7" width="1.1" height="2.2" fill="#ffffff" rx="0.3" fill-opacity="0.9"/>
<rect x="630.4" y="737.7" width="1.1" height="2.2" fill="#ffffff" rx="0.3" fill-opacity="0.9"/>
<rect x="651.1" y="737.7" width="1.1" height="2.2" fill="#ffffff" rx="0.3" fill-opacity="0.9"/>
<rect x="652.9" y="737.7" width="1.1" height="2.2" fill="#ffffff" rx="0.3" fill-opacity="0.9"/>
<line x1="455.6" y1="751.1" x2="619.4" y2="751.1" stroke="#63426a" stroke-width="1"/>
<rect x="439.4" y="502" width="123.1" height="61.8" fill="#b8a8c8" rx="3"/>
<rect x="442.4" y="505.6" width="116.8" height="54.6" fill="#ffffdd"/>
<path d="M474.5,563 L483.5,563 L472.5,575.5 Z" fill="#b8a8c8"/>
<path d="M476.2,561.5 L481.3,561.5 L473.5,571 Z" fill="#dccde1"/>
<text x="445.2" y="517.7" fill="#282828" font-size="7" class="mono">Do It Result: 255</text>
<path d="M471,519.3 q1,-1 2,0 t2,0 t2,0 t2,0 t2,0 t2,0 t2,0 t2,0 t2,0 t2,0 t2,0 t2,0" fill="none" stroke="#d23c3c" stroke-width="0.6"/>
<text x="445.2" y="549.2" fill="#282828" font-size="7" class="mono">Do It Result: 255</text>
<path d="M471,550.8 q1,-1 2,0 t2,0 t2,0 t2,0 t2,0 t2,0 t2,0 t2,0 t2,0 t2,0 t2,0 t2,0" fill="none" stroke="#d23c3c" stroke-width="0.6"/>
<text x="445.2" y="533" fill="#aaaa96" font-size="7" class="mono">...</text>
<path d="M582,49 a4,4 0 0 1 4,-4 H744.9 V65.3 H618 V85 H744.9 V93.5 H586 a4,4 0 0 1 -4,-4 Z" fill="#b18e35"/>
<line x1="585" y1="45.5" x2="744.9" y2="45.5" stroke="#ccb67c" stroke-width="1"/>
<line x1="582.5" y1="48" x2="582.5" y2="90" stroke="#ccb67c" stroke-width="1"/>
<text x="589.8" y="58.5" fill="#fff" font-size="11.2" class="w">when</text>
<rect x="623.75" y="49.6" width="80.65" height="11.2" fill="#e0d2ae" rx="3.5"/>
<text x="628.45" y="58.3" fill="#000" font-size="11" class="b">ModifyColor</text>
<path d="M693.9,53.1 h4 l-2,2.6 z" fill="#867e69"/>
<text x="709.4" y="58.5" fill="#fff" font-size="11.2" class="w">.Click</text>
<text x="589.8" y="78.5" fill="#fff" font-size="11.2" class="w">do</text>
<path d="M609.8,81 a5.2,5.2 0 0 0 5.2,5.2 H744.9" fill="none" stroke="#eee2c4" stroke-width="1.6"/>
<path d="M611,69.6 a4,4 0 0 1 4,-4 H810.5 V85 H615 a4,4 0 0 1 -4,-4 Z" fill="#b18e35"/>
<path d="M611.6,81 V69.6 a3.4,3.4 0 0 1 3.4,-3.4 H622.25 l4.5,3 h2.25 l4.5,-3 H810" fill="none" stroke="#ccb67c" stroke-width="1"/>
<path d="M622.25,85 l4.5,3 h2.25 l4.5,-3 z" fill="#b18e35"/>
<line x1="615" y1="84.6" x2="810.5" y2="84.6" stroke="#8e722a" stroke-width="1"/>
<text x="618.75" y="78.5" fill="#fff" font-size="11.2" class="w">open another screen</text>
<text x="730" y="78.5" fill="#fff" font-size="11.2" class="w">screenName</text>
<path d="M811.1,80.3 c0,-7.5 -6,6 -6,-5.625 s6,1.875 6,-5.625 z" fill="#c8313f" fill-opacity="0.8"/>
<rect x="810.5" y="65.3" width="69.8" height="19.7" fill="#c8313f"/>
<line x1="810.5" y1="65.8" x2="880.3" y2="65.8" stroke="#d35a65" stroke-width="1"/>
<line x1="810.5" y1="84.5" x2="880.3" y2="84.5" stroke="#aa2a36" stroke-width="1"/>
<line x1="879.8" y1="65.3" x2="879.8" y2="85" stroke="#aa2a36" stroke-width="1"/>
<rect x="813" y="69" width="63" height="11.8" fill="#f0b8c0" rx="2.5"/>
<text x="817.7" y="78.4" fill="#000" font-size="11" class="b">Screen2</text>
<path d="M864.5,73.2 h4 l-2,2.6 z" fill="#963c46"/>
<path d="M578.2,162.2 a4,4 0 0 1 4,-4 H803.2 V198 H614 V547.3 H802.3 V556.5 H582.2 a4,4 0 0 1 -4,-4 Z" fill="#b18e35"/>
<line x1="581" y1="158.7" x2="803.2" y2="158.7" stroke="#ccb67c" stroke-width="1"/>
<line x1="578.7" y1="161" x2="578.7" y2="553" stroke="#ccb67c" stroke-width="1"/>
<line x1="607" y1="197.6" x2="803.2" y2="197.6" stroke="#8e722a" stroke-width="1"/>
<text x="585.2" y="171.7" fill="#fff" font-size="11.2" class="w">when</text>
<rect x="619.7" y="162.2" width="97.5" height="12.4" fill="#e0d2ae" rx="3.5"/>
<text x="624.4" y="171.5" fill="#000" font-size="11" class="b">DisplaySpinner</text>
<path d="M706.7,166.3 h4 l-2,2.6 z" fill="#867e69"/>
<text x="721.2" y="171.7" fill="#fff" font-size="11.2" class="w">.AfterSelecting</text>
<rect x="592.3" y="180.6" width="53.4" height="13.5" fill="#e29876" rx="4"/>
<rect x="593.3" y="181.6" width="51.4" height="11.5" fill="#e8aa8c" rx="3.5"/>
<text x="596.8" y="191.3" fill="#000" font-size="11" class="b">selection</text>
<text x="586" y="209.6" fill="#fff" font-size="11.2" class="w">do</text>
<path d="M607,202 a4,4 0 0 1 4,-4 H668 V547.3 H611 a4,4 0 0 1 -4,-4 Z" fill="#b18e35"/>
<path d="M607.6,543.3 V202 a3.4,3.4 0 0 1 3.4,-3.4 H668" fill="none" stroke="#ccb67c" stroke-width="1.2"/>
<line x1="611" y1="546.8" x2="667.7" y2="546.8" stroke="#8e722a" stroke-width="1"/>
<path d="M605.8,543.3 a5.2,5.2 0 0 0 5.2,5.2 H802.3" fill="none" stroke="#faf4e8" stroke-width="1.6"/>
<path d="M618.25,547.3 l4.5,3 h2.25 l4.5,-3 z" fill="#b18e35"/>
<rect x="613.8" y="201" width="13.2" height="13.2" fill="#ebe1d7" rx="2.8" fill-opacity="0.7"/>
<rect x="614.6" y="201.8" width="11.6" height="11.6" fill="#3c2aa0" rx="2"/>
<polygon points="620.4,203.7 621.75,205.26 623.78,205.65 623.1,207.6 623.78,209.55 621.75,209.94 620.4,211.5 619.05,209.94 617.02,209.55 617.7,207.6 617.02,205.65 619.05,205.26" fill="#f4f0ff"/>
<circle cx="620.4" cy="207.6" r="2.8" fill="#f4f0ff"/>
<circle cx="620.4" cy="207.6" r="1.2" fill="#2a2050"/>
<text x="635.3" y="209.6" fill="#fff" font-size="11.2" class="w">if</text>
<text x="614.8" y="239" fill="#fff" font-size="11.2" class="w">then</text>
<text x="614.8" y="301.3" fill="#fff" font-size="11.2" class="w" word-spacing="0.7">else if</text>
<text x="614.8" y="330" fill="#fff" font-size="11.2" class="w">then</text>
<text x="614.8" y="392.2" fill="#fff" font-size="11.2" class="w" word-spacing="0.7">else if</text>
<text x="614.8" y="420.8" fill="#fff" font-size="11.2" class="w">then</text>
<text x="614.4" y="491" fill="#fff" font-size="11.2" class="w">else</text>
<path d="M668.6,212.8 c0,-7.5 -6,6 -6,-5.625 s6,1.875 6,-5.625 z" fill="#77ab41" fill-opacity="0.8"/>
<rect x="668" y="197.8" width="265.8" height="27.9" fill="#77ab41"/>
<line x1="668" y1="198.3" x2="933.8" y2="198.3" stroke="#99c070" stroke-width="1"/>
<line x1="668" y1="225.2" x2="933.8" y2="225.2" stroke="#5f8934" stroke-width="1"/>
<line x1="933.3" y1="197.8" x2="933.3" y2="225.7" stroke="#5f8934" stroke-width="1"/>
<path d="M681.1,217.8 c0,-7.5 -6,6 -6,-5.625 s6,1.875 6,-5.625 z" fill="#d05f2d" fill-opacity="0.8"/>
<rect x="680.5" y="202.8" width="98.1" height="18.6" fill="#d05f2d"/>
<line x1="680.5" y1="203.3" x2="778.6" y2="203.3" stroke="#d97f57" stroke-width="1"/>
<line x1="680.5" y1="220.9" x2="778.6" y2="220.9" stroke="#a64c24" stroke-width="1"/>
<line x1="778.1" y1="202.8" x2="778.1" y2="221.4" stroke="#a64c24" stroke-width="1"/>
<text x="689.5" y="215.3" fill="#fff" font-size="11.2" class="w">get</text>
<rect x="708.7" y="206.2" width="65.2" height="11.8" fill="#ecbfab" rx="3.5"/>
<text x="713.4" y="215.2" fill="#000" font-size="11" class="b">selection</text>
<path d="M763.4,210 h4 l-2,2.6 z" fill="#8e7367"/>
<rect x="783" y="205.6" width="26.8" height="11.8" fill="#c9ddb3" rx="3.5"/>
<text x="786.6" y="215.2" fill="#000" font-size="11" class="b">=</text>
<path d="M799.5,209.5 h4 l-2,2.6 z" fill="#78856b"/>
<path d="M820.2,217.8 c0,-7.5 -6,6 -6,-5.625 s6,1.875 6,-5.625 z" fill="#b32d5e" fill-opacity="0.8"/>
<rect x="819.6" y="202.8" width="106.4" height="18.8" fill="#b32d5e"/>
<line x1="819.6" y1="203.3" x2="926" y2="203.3" stroke="#ce7696" stroke-width="1"/>
<line x1="819.6" y1="221.1" x2="926" y2="221.1" stroke="#862246" stroke-width="1"/>
<line x1="925.5" y1="202.8" x2="925.5" y2="221.6" stroke="#862246" stroke-width="1"/>
<rect x="834.6" y="206" width="75.6" height="12.4" fill="#e1abbf" rx="3.5"/>
<text x="838.9" y="215.3" fill="#000" font-size="11" textLength="66.8" lengthAdjust="spacingAndGlyphs" class="b">Tout le temps</text>
<rect x="828.8" y="209.1" width="1.1" height="2.2" fill="#ffffff" rx="0.3" fill-opacity="0.9"/>
<rect x="830.6" y="209.1" width="1.1" height="2.2" fill="#ffffff" rx="0.3" fill-opacity="0.9"/>
<rect x="914.6" y="209.1" width="1.1" height="2.2" fill="#ffffff" rx="0.3" fill-opacity="0.9"/>
<rect x="916.4" y="209.1" width="1.1" height="2.2" fill="#ffffff" rx="0.3" fill-opacity="0.9"/>
<path d="M668.6,303.9 c0,-7.5 -6,6 -6,-5.625 s6,1.875 6,-5.625 z" fill="#77ab41" fill-opacity="0.8"/>
<rect x="668" y="288.9" width="287" height="27.7" fill="#77ab41"/>
<line x1="668" y1="289.4" x2="955" y2="289.4" stroke="#99c070" stroke-width="1"/>
<line x1="668" y1="316.1" x2="955" y2="316.1" stroke="#5f8934" stroke-width="1"/>
<line x1="954.5" y1="288.9" x2="954.5" y2="316.6" stroke="#5f8934" stroke-width="1"/>
<path d="M681.1,308.9 c0,-7.5 -6,6 -6,-5.625 s6,1.875 6,-5.625 z" fill="#d05f2d" fill-opacity="0.8"/>
<rect x="680.5" y="293.9" width="98.1" height="18.6" fill="#d05f2d"/>
<line x1="680.5" y1="294.4" x2="778.6" y2="294.4" stroke="#d97f57" stroke-width="1"/>
<line x1="680.5" y1="312" x2="778.6" y2="312" stroke="#a64c24" stroke-width="1"/>
<line x1="778.1" y1="293.9" x2="778.1" y2="312.5" stroke="#a64c24" stroke-width="1"/>
<text x="689.5" y="306.4" fill="#fff" font-size="11.2" class="w">get</text>
<rect x="708.7" y="297.3" width="65.2" height="11.8" fill="#ecbfab" rx="3.5"/>
<text x="713.4" y="306.3" fill="#000" font-size="11" class="b">selection</text>
<path d="M763.4,301.1 h4 l-2,2.6 z" fill="#8e7367"/>
<rect x="783" y="296.7" width="26.8" height="11.8" fill="#c9ddb3" rx="3.5"/>
<text x="786.6" y="306.3" fill="#000" font-size="11" class="b">=</text>
<path d="M799.5,300.6 h4 l-2,2.6 z" fill="#78856b"/>
<path d="M820.2,308.9 c0,-7.5 -6,6 -6,-5.625 s6,1.875 6,-5.625 z" fill="#b32d5e" fill-opacity="0.8"/>
<rect x="819.6" y="293.9" width="126.6" height="18.8" fill="#b32d5e"/>
<line x1="819.6" y1="294.4" x2="946.2" y2="294.4" stroke="#ce7696" stroke-width="1"/>
<line x1="819.6" y1="312.2" x2="946.2" y2="312.2" stroke="#862246" stroke-width="1"/>
<line x1="945.7" y1="293.9" x2="945.7" y2="312.7" stroke="#862246" stroke-width="1"/>
<rect x="834.6" y="297.1" width="95.8" height="12.4" fill="#e1abbf" rx="3.5"/>
<text x="838.9" y="306.4" fill="#000" font-size="11" textLength="87.6" lengthAdjust="spacingAndGlyphs" class="b">Pas durant la nuit</text>
<rect x="828.8" y="300.2" width="1.1" height="2.2" fill="#ffffff" rx="0.3" fill-opacity="0.9"/>
<rect x="830.6" y="300.2" width="1.1" height="2.2" fill="#ffffff" rx="0.3" fill-opacity="0.9"/>
<rect x="934.8" y="300.2" width="1.1" height="2.2" fill="#ffffff" rx="0.3" fill-opacity="0.9"/>
<rect x="936.6" y="300.2" width="1.1" height="2.2" fill="#ffffff" rx="0.3" fill-opacity="0.9"/>
<path d="M668.6,394.5 c0,-7.5 -6,6 -6,-5.625 s6,1.875 6,-5.625 z" fill="#77ab41" fill-opacity="0.8"/>
<rect x="668" y="379.5" width="344.4" height="27.7" fill="#77ab41"/>
<line x1="668" y1="380" x2="1012.4" y2="380" stroke="#99c070" stroke-width="1"/>
<line x1="668" y1="406.7" x2="1012.4" y2="406.7" stroke="#5f8934" stroke-width="1"/>
<line x1="1011.9" y1="379.5" x2="1011.9" y2="407.2" stroke="#5f8934" stroke-width="1"/>
<path d="M681.1,399.5 c0,-7.5 -6,6 -6,-5.625 s6,1.875 6,-5.625 z" fill="#d05f2d" fill-opacity="0.8"/>
<rect x="680.5" y="384.5" width="98.1" height="18.6" fill="#d05f2d"/>
<line x1="680.5" y1="385" x2="778.6" y2="385" stroke="#d97f57" stroke-width="1"/>
<line x1="680.5" y1="402.6" x2="778.6" y2="402.6" stroke="#a64c24" stroke-width="1"/>
<line x1="778.1" y1="384.5" x2="778.1" y2="403.1" stroke="#a64c24" stroke-width="1"/>
<text x="689.5" y="397" fill="#fff" font-size="11.2" class="w">get</text>
<rect x="708.7" y="387.9" width="65.2" height="11.8" fill="#ecbfab" rx="3.5"/>
<text x="713.4" y="396.9" fill="#000" font-size="11" class="b">selection</text>
<path d="M763.4,391.7 h4 l-2,2.6 z" fill="#8e7367"/>
<rect x="783" y="387.3" width="26.8" height="11.8" fill="#c9ddb3" rx="3.5"/>
<text x="786.6" y="396.9" fill="#000" font-size="11" class="b">=</text>
<path d="M799.5,391.2 h4 l-2,2.6 z" fill="#78856b"/>
<path d="M820.2,399.5 c0,-7.5 -6,6 -6,-5.625 s6,1.875 6,-5.625 z" fill="#b32d5e" fill-opacity="0.8"/>
<rect x="819.6" y="384.5" width="184" height="18.8" fill="#b32d5e"/>
<line x1="819.6" y1="385" x2="1003.6" y2="385" stroke="#ce7696" stroke-width="1"/>
<line x1="819.6" y1="402.8" x2="1003.6" y2="402.8" stroke="#862246" stroke-width="1"/>
<line x1="1003.1" y1="384.5" x2="1003.1" y2="403.3" stroke="#862246" stroke-width="1"/>
<rect x="834.6" y="387.7" width="153.2" height="12.4" fill="#e1abbf" rx="3.5"/>
<text x="838.9" y="397" fill="#000" font-size="11" textLength="145.2" lengthAdjust="spacingAndGlyphs" class="b">Pas durant le travail ni la nuit</text>
<rect x="828.8" y="390.8" width="1.1" height="2.2" fill="#ffffff" rx="0.3" fill-opacity="0.9"/>
<rect x="830.6" y="390.8" width="1.1" height="2.2" fill="#ffffff" rx="0.3" fill-opacity="0.9"/>
<rect x="992.2" y="390.8" width="1.1" height="2.2" fill="#ffffff" rx="0.3" fill-opacity="0.9"/>
<rect x="994" y="390.8" width="1.1" height="2.2" fill="#ffffff" rx="0.3" fill-opacity="0.9"/>
<path d="M646,230.7 a4,4 0 0 1 4,-4 H817.4 V284.6 H650 a4,4 0 0 1 -4,-4 Z" fill="#7c5385"/>
<line x1="646.5" y1="230.7" x2="646.5" y2="280.6" stroke="#a387aa" stroke-width="1"/>
<path d="M646.5,230.7 a3.5,3.5 0 0 1 3.5,-3.5 H817.4" fill="none" stroke="#a387aa" stroke-width="1"/>
<path d="M657.25,226.7 l4.5,3 h2.25 l4.5,-3 z" fill="#b18e35"/>
<line x1="816.9" y1="226.7" x2="816.9" y2="284.6" stroke="#63426a" stroke-width="1"/>
<line x1="650" y1="284" x2="817.4" y2="284" stroke="#63426a" stroke-width="1"/>
<path d="M644.8,280.6 a5.2,5.2 0 0 0 5.2,5.2 H667.7" fill="none" stroke="#faf4e8" stroke-width="1.6"/>
<path d="M657.25,284.6 l4.5,3 h2.25 l4.5,-3 z" fill="#7c5385"/>
<text x="654.2" y="239.3" fill="#fff" font-size="11.2" class="w">call</text>
<rect x="677.3" y="229.9" width="63.3" height="12.2" fill="#cbbace" rx="3.5"/>
<text x="682" y="239.1" fill="#000" font-size="11" class="b">TinyDB1</text>
<path d="M730.1,233.9 h4 l-2,2.6 z" fill="#7a707c"/>
<text x="745.6" y="239.3" fill="#fff" font-size="11.2" class="w">.StoreValue</text>
<text x="802.8" y="259.2" fill="#fff" font-size="11.2" text-anchor="end" class="w">tag</text>
<text x="802.8" y="279.1" fill="#fff" font-size="11.2" text-anchor="end" class="w">valueToStore</text>
<path d="M818,261 c0,-7.5 -6,6 -6,-5.625 s6,1.875 6,-5.625 z" fill="#b32d5e" fill-opacity="0.8"/>
<rect x="817.4" y="246" width="101.12" height="19.5" fill="#b32d5e"/>
<line x1="817.4" y1="246.5" x2="918.52" y2="246.5" stroke="#ce7696" stroke-width="1"/>
<line x1="817.4" y1="265" x2="918.52" y2="265" stroke="#862246" stroke-width="1"/>
<line x1="918.02" y1="246" x2="918.02" y2="265.5" stroke="#862246" stroke-width="1"/>
<rect x="833.4" y="249.75" width="69.12" height="12.8" fill="#e1abbf" rx="3.5"/>
<text x="838" y="259.25" fill="#000" font-size="11" class="b">DisplayType</text>
<rect x="826.6" y="252.3" width="1.1" height="2.2" fill="#ffffff" rx="0.3" fill-opacity="0.9"/>
<rect x="828.4" y="252.3" width="1.1" height="2.2" fill="#ffffff" rx="0.3" fill-opacity="0.9"/>
<rect x="906.92" y="252.3" width="1.1" height="2.2" fill="#ffffff" rx="0.3" fill-opacity="0.9"/>
<rect x="908.72" y="252.3" width="1.1" height="2.2" fill="#ffffff" rx="0.3" fill-opacity="0.9"/>
<path d="M818,280.5 c0,-7.5 -6,6 -6,-5.625 s6,1.875 6,-5.625 z" fill="#3f71b5" fill-opacity="0.8"/>
<rect x="817.4" y="265.5" width="23.53" height="19.6" fill="#3f71b5"/>
<line x1="817.4" y1="266" x2="840.93" y2="266" stroke="#82a3cf" stroke-width="1"/>
<line x1="817.4" y1="284.6" x2="840.93" y2="284.6" stroke="#2f5588" stroke-width="1"/>
<line x1="840.43" y1="265.5" x2="840.43" y2="285.1" stroke="#2f5588" stroke-width="1"/>
<rect x="821.9" y="269.3" width="14.53" height="12.8" fill="#b2c6e1" rx="3.5"/>
<text x="826.1" y="278.8" fill="#000" font-size="11" class="b">1</text>
<path d="M646,321.3 a4,4 0 0 1 4,-4 H817.4 V375.2 H650 a4,4 0 0 1 -4,-4 Z" fill="#7c5385"/>
<line x1="646.5" y1="321.3" x2="646.5" y2="371.2" stroke="#a387aa" stroke-width="1"/>
<path d="M646.5,321.3 a3.5,3.5 0 0 1 3.5,-3.5 H817.4" fill="none" stroke="#a387aa" stroke-width="1"/>
<path d="M657.25,317.3 l4.5,3 h2.25 l4.5,-3 z" fill="#b18e35"/>
<line x1="816.9" y1="317.3" x2="816.9" y2="375.2" stroke="#63426a" stroke-width="1"/>
<line x1="650" y1="374.6" x2="817.4" y2="374.6" stroke="#63426a" stroke-width="1"/>
<path d="M644.8,371.2 a5.2,5.2 0 0 0 5.2,5.2 H667.7" fill="none" stroke="#faf4e8" stroke-width="1.6"/>
<path d="M657.25,375.2 l4.5,3 h2.25 l4.5,-3 z" fill="#7c5385"/>
<text x="654.2" y="329.9" fill="#fff" font-size="11.2" class="w">call</text>
<rect x="677.3" y="320.5" width="63.3" height="12.2" fill="#cbbace" rx="3.5"/>
<text x="682" y="329.7" fill="#000" font-size="11" class="b">TinyDB1</text>
<path d="M730.1,324.5 h4 l-2,2.6 z" fill="#7a707c"/>
<text x="745.6" y="329.9" fill="#fff" font-size="11.2" class="w">.StoreValue</text>
<text x="802.8" y="349.8" fill="#fff" font-size="11.2" text-anchor="end" class="w">tag</text>
<text x="802.8" y="369.7" fill="#fff" font-size="11.2" text-anchor="end" class="w">valueToStore</text>
<path d="M818,351.6 c0,-7.5 -6,6 -6,-5.625 s6,1.875 6,-5.625 z" fill="#b32d5e" fill-opacity="0.8"/>
<rect x="817.4" y="336.6" width="101.12" height="19.5" fill="#b32d5e"/>
<line x1="817.4" y1="337.1" x2="918.52" y2="337.1" stroke="#ce7696" stroke-width="1"/>
<line x1="817.4" y1="355.6" x2="918.52" y2="355.6" stroke="#862246" stroke-width="1"/>
<line x1="918.02" y1="336.6" x2="918.02" y2="356.1" stroke="#862246" stroke-width="1"/>
<rect x="833.4" y="340.35" width="69.12" height="12.8" fill="#e1abbf" rx="3.5"/>
<text x="838" y="349.85" fill="#000" font-size="11" class="b">DisplayType</text>
<rect x="826.6" y="342.9" width="1.1" height="2.2" fill="#ffffff" rx="0.3" fill-opacity="0.9"/>
<rect x="828.4" y="342.9" width="1.1" height="2.2" fill="#ffffff" rx="0.3" fill-opacity="0.9"/>
<rect x="906.92" y="342.9" width="1.1" height="2.2" fill="#ffffff" rx="0.3" fill-opacity="0.9"/>
<rect x="908.72" y="342.9" width="1.1" height="2.2" fill="#ffffff" rx="0.3" fill-opacity="0.9"/>
<path d="M818,371.1 c0,-7.5 -6,6 -6,-5.625 s6,1.875 6,-5.625 z" fill="#3f71b5" fill-opacity="0.8"/>
<rect x="817.4" y="356.1" width="23.53" height="19.6" fill="#3f71b5"/>
<line x1="817.4" y1="356.6" x2="840.93" y2="356.6" stroke="#82a3cf" stroke-width="1"/>
<line x1="817.4" y1="375.2" x2="840.93" y2="375.2" stroke="#2f5588" stroke-width="1"/>
<line x1="840.43" y1="356.1" x2="840.43" y2="375.7" stroke="#2f5588" stroke-width="1"/>
<rect x="821.9" y="359.9" width="14.53" height="12.8" fill="#b2c6e1" rx="3.5"/>
<text x="826.1" y="369.4" fill="#000" font-size="11" class="b">2</text>
<path d="M646,412 a4,4 0 0 1 4,-4 H817.4 V465.9 H650 a4,4 0 0 1 -4,-4 Z" fill="#7c5385"/>
<line x1="646.5" y1="412" x2="646.5" y2="461.9" stroke="#a387aa" stroke-width="1"/>
<path d="M646.5,412 a3.5,3.5 0 0 1 3.5,-3.5 H817.4" fill="none" stroke="#a387aa" stroke-width="1"/>
<path d="M657.25,408 l4.5,3 h2.25 l4.5,-3 z" fill="#b18e35"/>
<line x1="816.9" y1="408" x2="816.9" y2="465.9" stroke="#63426a" stroke-width="1"/>
<line x1="650" y1="465.3" x2="817.4" y2="465.3" stroke="#63426a" stroke-width="1"/>
<path d="M644.8,461.9 a5.2,5.2 0 0 0 5.2,5.2 H667.7" fill="none" stroke="#faf4e8" stroke-width="1.6"/>
<path d="M657.25,465.9 l4.5,3 h2.25 l4.5,-3 z" fill="#7c5385"/>
<text x="654.2" y="420.6" fill="#fff" font-size="11.2" class="w">call</text>
<rect x="677.3" y="411.2" width="63.3" height="12.2" fill="#cbbace" rx="3.5"/>
<text x="682" y="420.4" fill="#000" font-size="11" class="b">TinyDB1</text>
<path d="M730.1,415.2 h4 l-2,2.6 z" fill="#7a707c"/>
<text x="745.6" y="420.6" fill="#fff" font-size="11.2" class="w">.StoreValue</text>
<text x="802.8" y="440.5" fill="#fff" font-size="11.2" text-anchor="end" class="w">tag</text>
<text x="802.8" y="460.4" fill="#fff" font-size="11.2" text-anchor="end" class="w">valueToStore</text>
<path d="M818,442.3 c0,-7.5 -6,6 -6,-5.625 s6,1.875 6,-5.625 z" fill="#b32d5e" fill-opacity="0.8"/>
<rect x="817.4" y="427.3" width="101.12" height="19.5" fill="#b32d5e"/>
<line x1="817.4" y1="427.8" x2="918.52" y2="427.8" stroke="#ce7696" stroke-width="1"/>
<line x1="817.4" y1="446.3" x2="918.52" y2="446.3" stroke="#862246" stroke-width="1"/>
<line x1="918.02" y1="427.3" x2="918.02" y2="446.8" stroke="#862246" stroke-width="1"/>
<rect x="833.4" y="431.05" width="69.12" height="12.8" fill="#e1abbf" rx="3.5"/>
<text x="838" y="440.55" fill="#000" font-size="11" class="b">DisplayType</text>
<rect x="826.6" y="433.6" width="1.1" height="2.2" fill="#ffffff" rx="0.3" fill-opacity="0.9"/>
<rect x="828.4" y="433.6" width="1.1" height="2.2" fill="#ffffff" rx="0.3" fill-opacity="0.9"/>
<rect x="906.92" y="433.6" width="1.1" height="2.2" fill="#ffffff" rx="0.3" fill-opacity="0.9"/>
<rect x="908.72" y="433.6" width="1.1" height="2.2" fill="#ffffff" rx="0.3" fill-opacity="0.9"/>
<path d="M818,461.8 c0,-7.5 -6,6 -6,-5.625 s6,1.875 6,-5.625 z" fill="#3f71b5" fill-opacity="0.8"/>
<rect x="817.4" y="446.8" width="23.53" height="19.6" fill="#3f71b5"/>
<line x1="817.4" y1="447.3" x2="840.93" y2="447.3" stroke="#82a3cf" stroke-width="1"/>
<line x1="817.4" y1="465.9" x2="840.93" y2="465.9" stroke="#2f5588" stroke-width="1"/>
<line x1="840.43" y1="446.8" x2="840.43" y2="466.4" stroke="#2f5588" stroke-width="1"/>
<rect x="821.9" y="450.6" width="14.53" height="12.8" fill="#b2c6e1" rx="3.5"/>
<text x="826.1" y="460.1" fill="#000" font-size="11" class="b">3</text>
<path d="M646,482.2 a4,4 0 0 1 4,-4 H817.4 V536.1 H650 a4,4 0 0 1 -4,-4 Z" fill="#7c5385"/>
<line x1="646.5" y1="482.2" x2="646.5" y2="532.1" stroke="#a387aa" stroke-width="1"/>
<path d="M646.5,482.2 a3.5,3.5 0 0 1 3.5,-3.5 H817.4" fill="none" stroke="#a387aa" stroke-width="1"/>
<path d="M657.25,478.2 l4.5,3 h2.25 l4.5,-3 z" fill="#b18e35"/>
<line x1="816.9" y1="478.2" x2="816.9" y2="536.1" stroke="#63426a" stroke-width="1"/>
<line x1="650" y1="535.5" x2="817.4" y2="535.5" stroke="#63426a" stroke-width="1"/>
<path d="M644.8,532.1 a5.2,5.2 0 0 0 5.2,5.2 H667.7" fill="none" stroke="#faf4e8" stroke-width="1.6"/>
<path d="M657.25,536.1 l4.5,3 h2.25 l4.5,-3 z" fill="#7c5385"/>
<text x="654.2" y="490.8" fill="#fff" font-size="11.2" class="w">call</text>
<rect x="677.3" y="481.4" width="63.3" height="12.2" fill="#cbbace" rx="3.5"/>
<text x="682" y="490.6" fill="#000" font-size="11" class="b">TinyDB1</text>
<path d="M730.1,485.4 h4 l-2,2.6 z" fill="#7a707c"/>
<text x="745.6" y="490.8" fill="#fff" font-size="11.2" class="w">.StoreValue</text>
<text x="802.8" y="510.7" fill="#fff" font-size="11.2" text-anchor="end" class="w">tag</text>
<text x="802.8" y="530.6" fill="#fff" font-size="11.2" text-anchor="end" class="w">valueToStore</text>
<path d="M818,512.5 c0,-7.5 -6,6 -6,-5.625 s6,1.875 6,-5.625 z" fill="#b32d5e" fill-opacity="0.8"/>
<rect x="817.4" y="497.5" width="101.12" height="19.5" fill="#b32d5e"/>
<line x1="817.4" y1="498" x2="918.52" y2="498" stroke="#ce7696" stroke-width="1"/>
<line x1="817.4" y1="516.5" x2="918.52" y2="516.5" stroke="#862246" stroke-width="1"/>
<line x1="918.02" y1="497.5" x2="918.02" y2="517" stroke="#862246" stroke-width="1"/>
<rect x="833.4" y="501.25" width="69.12" height="12.8" fill="#e1abbf" rx="3.5"/>
<text x="838" y="510.75" fill="#000" font-size="11" class="b">DisplayType</text>
<rect x="826.6" y="503.8" width="1.1" height="2.2" fill="#ffffff" rx="0.3" fill-opacity="0.9"/>
<rect x="828.4" y="503.8" width="1.1" height="2.2" fill="#ffffff" rx="0.3" fill-opacity="0.9"/>
<rect x="906.92" y="503.8" width="1.1" height="2.2" fill="#ffffff" rx="0.3" fill-opacity="0.9"/>
<rect x="908.72" y="503.8" width="1.1" height="2.2" fill="#ffffff" rx="0.3" fill-opacity="0.9"/>
<path d="M818,532 c0,-7.5 -6,6 -6,-5.625 s6,1.875 6,-5.625 z" fill="#3f71b5" fill-opacity="0.8"/>
<rect x="817.4" y="517" width="23.53" height="19.6" fill="#3f71b5"/>
<line x1="817.4" y1="517.5" x2="840.93" y2="517.5" stroke="#82a3cf" stroke-width="1"/>
<line x1="817.4" y1="536.1" x2="840.93" y2="536.1" stroke="#2f5588" stroke-width="1"/>
<line x1="840.43" y1="517" x2="840.43" y2="536.6" stroke="#2f5588" stroke-width="1"/>
<rect x="821.9" y="520.8" width="14.53" height="12.8" fill="#b2c6e1" rx="3.5"/>
<text x="826.1" y="530.3" fill="#000" font-size="11" class="b">4</text>
</svg>
</body></html>
